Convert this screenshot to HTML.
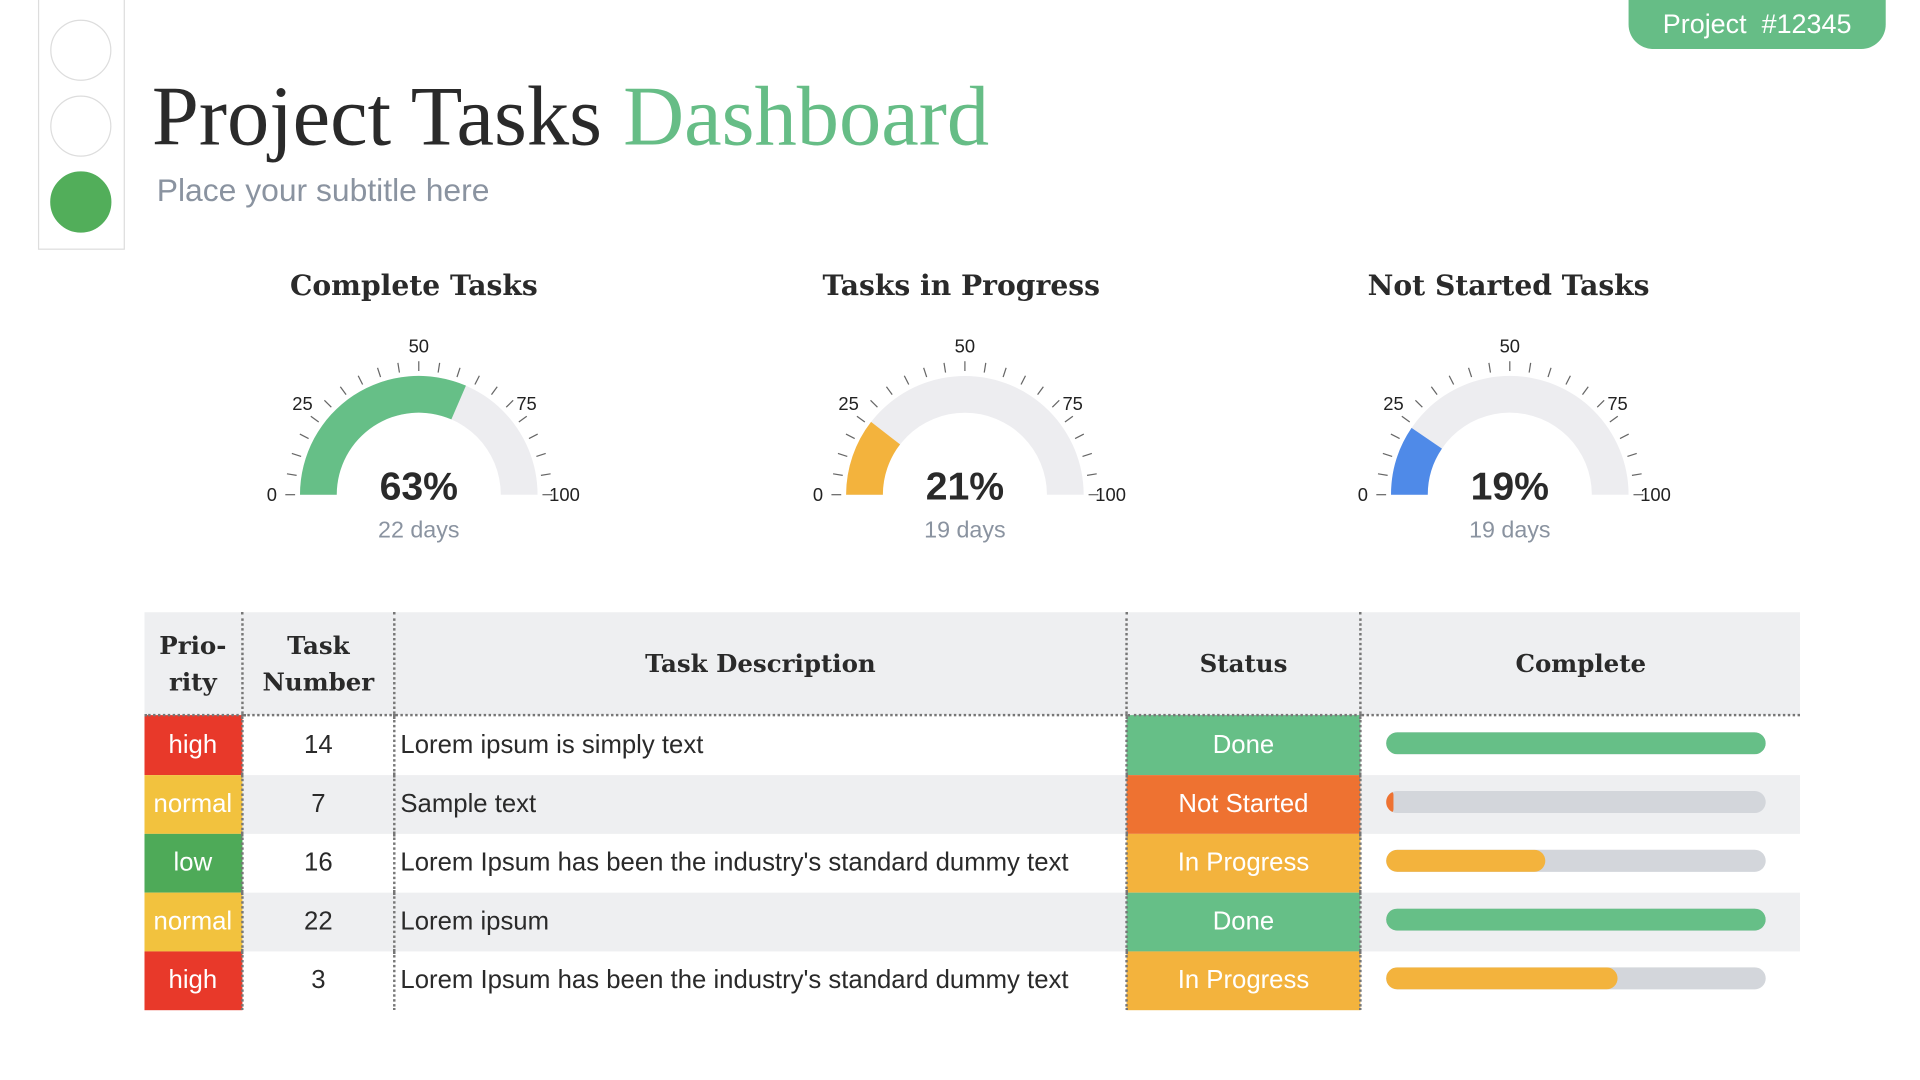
<!DOCTYPE html>
<html><head><meta charset="utf-8">
<style>
html,body{margin:0;padding:0;background:#fff;width:1920px;height:1080px;overflow:hidden}
#w{position:absolute;left:0;top:0;width:1568px;height:882px;transform:scale(1.22449);transform-origin:0 0;font-family:"Liberation Sans",sans-serif;color:#2a2a2a}
.abs{position:absolute}
.circ{position:absolute;left:41px;width:48px;height:48px;border-radius:50%;border:1px solid #ddd;background:#fff}
table{position:absolute;left:118px;top:500px;width:1352px;border-collapse:collapse;table-layout:fixed}
td,th{padding:0;text-align:center;font-size:21px}
th{background:#eeeff1;height:83px;font-family:"DejaVu Serif",serif;font-weight:bold;font-size:20px;line-height:30px;border-bottom:2px dotted #777}
td{height:48px}
.dl{border-left:2px dotted #777}
tr.alt td{background:#eeeff1}
.p{color:#fff}
.hi{background:#e8392a!important}.no{background:#f2c23e!important}.lo{background:#4eaa58!important}
.dn{background:#66bf87!important;color:#fff}.ns{background:#ee7231!important;color:#fff}.ip{background:#f3b33d!important;color:#fff}
.desc{text-align:left;padding-left:4px}
.bar{width:310px;height:18px;border-radius:9px;background:#d3d6db;margin-left:20px;overflow:hidden;margin-top:-4px}
.bar div{height:100%;border-radius:9px}
.gt{position:absolute;top:220px;width:400px;text-align:center;font-family:"DejaVu Serif",serif;font-weight:bold;font-size:23px}
</style></head><body><div id="w">
<div class="abs" style="left:31px;top:-1px;width:69px;height:203px;border:1px solid #ddd"></div>
<div class="circ" style="top:16px"></div>
<div class="circ" style="top:78px"></div>
<div class="circ" style="top:140px;background:#52ae5a;border-color:#52ae5a"></div>
<div class="abs" style="left:1330px;top:0;width:210px;height:40px;background:#66bd86;border-radius:0 0 20px 20px;color:#fff;font-size:22px;line-height:40px;text-align:center">Project&nbsp; #12345</div>
<div class="abs" style="left:124px;top:56px;font-family:'Liberation Serif',serif;font-size:69px;line-height:78px;white-space:nowrap">Project Tasks <span style="color:#66bd86">Dashboard</span></div>
<div class="abs" style="left:128px;top:140px;font-size:26px;color:#8a93a0">Place your subtitle here</div>
<div class="gt" style="left:138px">Complete Tasks</div>
<div class="gt" style="left:585px">Tasks in Progress</div>
<div class="gt" style="left:1032px">Not Started Tasks</div>
<svg id="g" class="abs" style="left:0;top:0" width="1568" height="480"></svg>
<table>
<colgroup><col style="width:80px"><col style="width:124px"><col style="width:598px"><col style="width:191px"><col></colgroup>
<tr><th>Prio-<br>rity</th><th class="dl">Task<br>Number</th><th class="dl">Task Description</th><th class="dl">Status</th><th class="dl">Complete</th></tr>
<tr><td class="p hi">high</td><td class="dl">14</td><td class="dl desc">Lorem ipsum is simply text</td><td class="dl dn">Done</td><td class="dl"><div class="bar"><div style="width:100%;background:#66bf87"></div></div></td></tr>
<tr class="alt"><td class="p no">normal</td><td class="dl">7</td><td class="dl desc">Sample text</td><td class="dl ns">Not Started</td><td class="dl"><div class="bar"><div style="width:6px;background:#ee7231;border-radius:3px"></div></div></td></tr>
<tr><td class="p lo">low</td><td class="dl">16</td><td class="dl desc">Lorem Ipsum has been the industry's standard dummy text</td><td class="dl ip">In Progress</td><td class="dl"><div class="bar"><div style="width:42%;background:#f3b33d"></div></div></td></tr>
<tr class="alt"><td class="p no">normal</td><td class="dl">22</td><td class="dl desc">Lorem ipsum</td><td class="dl dn">Done</td><td class="dl"><div class="bar"><div style="width:100%;background:#66bf87"></div></div></td></tr>
<tr><td class="p hi">high</td><td class="dl">3</td><td class="dl desc">Lorem Ipsum has been the industry's standard dummy text</td><td class="dl ip">In Progress</td><td class="dl"><div class="bar"><div style="width:61%;background:#f3b33d"></div></div></td></tr>
</table>
</div>
<script>
var s='',G=[[342,63,'#66bf87','63%','22 days'],[788,21,'#f3b33d','21%','19 days'],[1233,19,'#4f8ae8','19%','19 days']];
function P(cx,cy,r,v){var t=Math.PI*(1-v/100);return [cx+r*Math.cos(t),cy-r*Math.sin(t)];}
function arc(cx,cy,R,r,a,b,c){var p1=P(cx,cy,R,a),p2=P(cx,cy,R,b),p3=P(cx,cy,r,b),p4=P(cx,cy,r,a);
return '<path d="M'+p1+' A'+R+' '+R+' 0 0 1 '+p2+' L'+p3+' A'+r+' '+r+' 0 0 0 '+p4+'Z" fill="'+c+'"/>';}
var L=[[0,-120,0],[25,-95,-74],[50,0,-121],[75,88,-74],[100,119,0]];
G.forEach(function(g){var cx=g[0],cy=404;
s+=arc(cx,cy,97,67,0,100,'#ededf0');s+=arc(cx,cy,97,67,0,g[1],g[2]);
for(var i=0;i<=20;i++){var v=i*5,a=P(cx,cy,101,v),b=P(cx,cy,109,v);s+='<line x1="'+a[0]+'" y1="'+a[1]+'" x2="'+b[0]+'" y2="'+b[1]+'" stroke="#666" stroke-width="1"/>';}
L.forEach(function(l){
s+='<text x="'+(cx+l[1])+'" y="'+(cy+l[2]+5)+'" text-anchor="middle" font-size="15" fill="#222" font-family="Liberation Sans">'+l[0]+'</text>';});
s+='<text x="'+cx+'" y="408" text-anchor="middle" font-size="32" font-weight="bold" fill="#2a2a2a" font-family="Liberation Sans">'+g[3]+'</text>';
s+='<text x="'+cx+'" y="439" text-anchor="middle" font-size="19" fill="#8a93a0" font-family="Liberation Sans">'+g[4]+'</text>';});
document.getElementById('g').innerHTML=s;
</script>
</body></html>
